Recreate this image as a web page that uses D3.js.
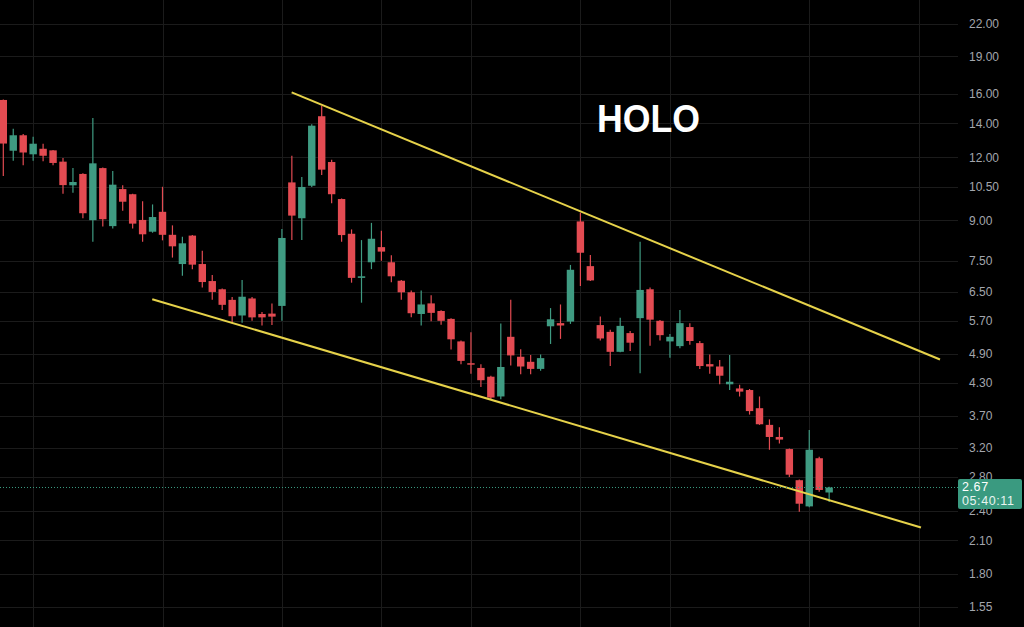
<!DOCTYPE html>
<html>
<head>
<meta charset="utf-8">
<script src="https://cdn.jsdelivr.net/npm/d3@7/dist/d3.min.js"></script>
<style>
  html, body { margin: 0; padding: 0; background: #000; }
  svg { display: block; }
</style>
</head>
<body>
<svg id="chart" width="1024" height="627"></svg>
<script>
// ---------- DATA ----------
const title = "HOLO";
const openV = [15.57,12.36,13.26,12.16,12.47,12.38,11.76,10.56,11.12,9.01,
  11.42,8.77,10.38,10.14,9.02,8.55,9.36,8.43,7.38,8.40,
  7.38,6.83,6.58,6.27,5.84,6.31,5.88,5.89,6.10,10.70,
  9.09,10.54,14.46,11.74,9.92,8.47,6.93,7.44,7.97,7.44,
  6.84,6.49,5.88,6.17,5.96,5.75,5.19,4.70,4.60,4.42,
  4.04,5.30,4.84,4.73,4.58,5.56,5.64,5.68,8.96,7.31,
  5.59,5.42,4.95,5.39,5.77,6.58,5.70,5.19,5.08,5.54,
  5.15,4.68,4.63,4.27,4.19,4.16,3.83,3.55,3.36,3.18,
  2.76,2.45,3.05,2.61];
const highV = [15.60,13.66,13.34,13.17,12.76,12.40,11.96,11.42,11.15,14.34,
  11.45,11.27,10.56,10.16,9.82,9.68,10.49,8.80,8.36,8.42,
  7.84,7.02,6.60,6.35,6.86,6.35,5.93,6.17,8.66,12.08,
  10.97,13.94,15.17,11.86,9.94,8.64,8.23,8.90,8.59,7.68,
  6.86,6.54,6.54,6.40,5.98,5.77,5.21,5.41,4.68,4.44,
  5.63,6.27,5.01,4.88,4.89,6.04,6.14,7.35,9.32,7.69,
  5.81,5.47,5.78,5.44,8.17,6.63,5.72,5.37,5.99,5.64,
  5.20,4.89,4.77,4.88,4.26,4.18,4.04,3.64,3.51,3.19,
  2.77,3.47,3.07,2.68];
const lowV = [11.02,11.81,11.57,11.81,11.78,11.57,10.16,10.21,9.09,8.17,
  8.75,8.68,9.41,8.68,8.17,8.51,8.22,7.60,7.00,7.21,
  6.63,6.27,5.99,5.64,5.65,5.70,5.58,5.59,5.70,8.23,
  8.23,10.48,11.07,9.73,8.17,6.78,6.19,7.21,7.49,6.79,
  6.27,5.79,5.58,5.69,5.60,5.00,4.68,4.48,4.22,3.99,
  3.99,4.65,4.47,4.47,4.54,5.13,5.25,5.62,6.68,6.83,
  5.21,4.64,4.94,4.97,4.49,5.09,5.21,4.82,5.03,5.11,
  4.58,4.48,4.27,4.16,4.04,3.72,3.55,3.17,3.26,2.80,
  2.39,2.44,2.62,2.50];
const closeV = [12.77,13.26,12.26,12.76,12.08,11.69,10.57,10.72,9.30,11.67,
  9.05,10.59,9.80,8.87,8.45,9.14,8.43,8.00,8.11,7.36,
  6.80,6.50,6.13,5.82,6.36,5.79,5.79,5.81,8.31,9.20,
  10.48,13.85,11.34,10.14,8.42,6.93,6.98,8.28,7.81,6.98,
  6.49,5.90,6.14,5.91,5.70,5.24,4.75,4.68,4.35,4.02,
  4.62,4.87,4.63,4.58,4.81,5.74,5.58,7.19,7.77,6.85,
  5.26,4.95,5.57,5.16,6.56,5.73,5.34,5.30,5.64,5.20,
  4.64,4.63,4.44,4.32,4.13,3.78,3.56,3.36,3.32,2.83,
  2.48,3.17,2.64,2.67];
const priceTicks = [22,19,16,14,12,10.5,9,7.5,6.5,5.7,4.9,4.3,3.7,3.2,2.8,2.4,2.1,1.8,1.55];
const timeGridIdx = [3,16,28,38,47,58,67,81,92];
const upperTrend = [{i: 28.98, p: 16.12}, {i: 94.14, p: 4.78}];
const lowerTrend = [{i: 14.97, p: 6.29}, {i: 92.23, p: 2.226}];
const lastPrice = 2.67;
const countdown = "05:40:11";

// ---------- CHART ----------
const W = 1024, H = 627;
const plotRight = 958;
const font = "'Liberation Sans', Arial, sans-serif";
const svg = d3.select("#chart");
svg.append("rect").attr("width", W).attr("height", H).attr("fill", "#000");

const candles = openV.map((o, i) => ({i, o, h: highV[i], l: lowV[i], c: closeV[i]}));

const x = d3.scaleLinear().domain([0, 83]).range([3.3, 829.15]);
const y = d3.scaleLog().domain([1.55, 22]).range([607, 24]);

const grid = svg.append("g");
grid.selectAll("line.h").data(priceTicks).join("line")
  .attr("x1", 0).attr("x2", plotRight)
  .attr("y1", d => Math.round(y(d)) + 0.5).attr("y2", d => Math.round(y(d)) + 0.5)
  .attr("stroke", "#1b1b1b").attr("stroke-width", 1);
grid.selectAll("line.v").data(timeGridIdx).join("line")
  .attr("x1", d => Math.round(x(d)) + 0.5).attr("x2", d => Math.round(x(d)) + 0.5)
  .attr("y1", 0).attr("y2", H)
  .attr("stroke", "#1b1b1b").attr("stroke-width", 1);

const up = "#3f9b82", down = "#e34b52";
const bw = 7.4;
const cg = svg.append("g");
cg.selectAll("line.wick").data(candles).join("line")
  .attr("x1", d => x(d.i)).attr("x2", d => x(d.i))
  .attr("y1", d => y(d.h)).attr("y2", d => y(d.l))
  .attr("stroke", d => d.c >= d.o ? up : down).attr("stroke-width", 1.2);
cg.selectAll("rect.body").data(candles).join("rect")
  .attr("x", d => x(d.i) - bw / 2)
  .attr("width", bw)
  .attr("y", d => y(Math.max(d.o, d.c)))
  .attr("height", d => Math.max(1.5, Math.abs(y(d.o) - y(d.c))))
  .attr("fill", d => d.c >= d.o ? up : down);

// trend lines
const tl = d3.line().x(d => x(d.i)).y(d => y(d.p));
[upperTrend, lowerTrend].forEach(t => {
  svg.append("path").attr("d", tl(t)).attr("fill", "none")
    .attr("stroke", "#e6d24a").attr("stroke-width", 2);
});

// last price dotted line
svg.append("line")
  .attr("x1", 0).attr("x2", plotRight)
  .attr("y1", y(lastPrice)).attr("y2", y(lastPrice))
  .attr("stroke", "#3a9a80").attr("stroke-width", 1).attr("stroke-dasharray", "1,2");

// y-axis labels
const axis = d3.axisRight(y).tickValues(priceTicks).tickFormat(d3.format(".2f")).tickSize(0).tickPadding(0);
const ag = svg.append("g").attr("transform", `translate(969,0)`).call(axis);
ag.select(".domain").remove();
ag.selectAll("text").attr("fill", "#a3a6ad").attr("font-size", 12)
  .attr("font-family", font);

// last price label
const ly = y(lastPrice);
svg.append("rect").attr("x", 958).attr("y", ly - 8.5).attr("width", 64).attr("height", 30)
  .attr("rx", 2).attr("fill", "#3a9a80");
svg.append("text").attr("x", 962).attr("y", ly + 4).text(d3.format(".2f")(lastPrice))
  .attr("fill", "#fff").attr("font-size", 12.5).attr("letter-spacing", 0.6).attr("font-family", font);
svg.append("text").attr("x", 962).attr("y", ly + 18).text(countdown)
  .attr("fill", "#e8f4f0").attr("font-size", 12.5).attr("letter-spacing", 0.6).attr("font-family", font);

// title
svg.append("text").attr("x", 597).attr("y", 132).text(title)
  .attr("fill", "#fff").attr("font-size", 38).attr("font-weight", "bold")
  .attr("textLength", 103).attr("lengthAdjust", "spacingAndGlyphs")
  .attr("font-family", font);
</script>
</body>
</html>
